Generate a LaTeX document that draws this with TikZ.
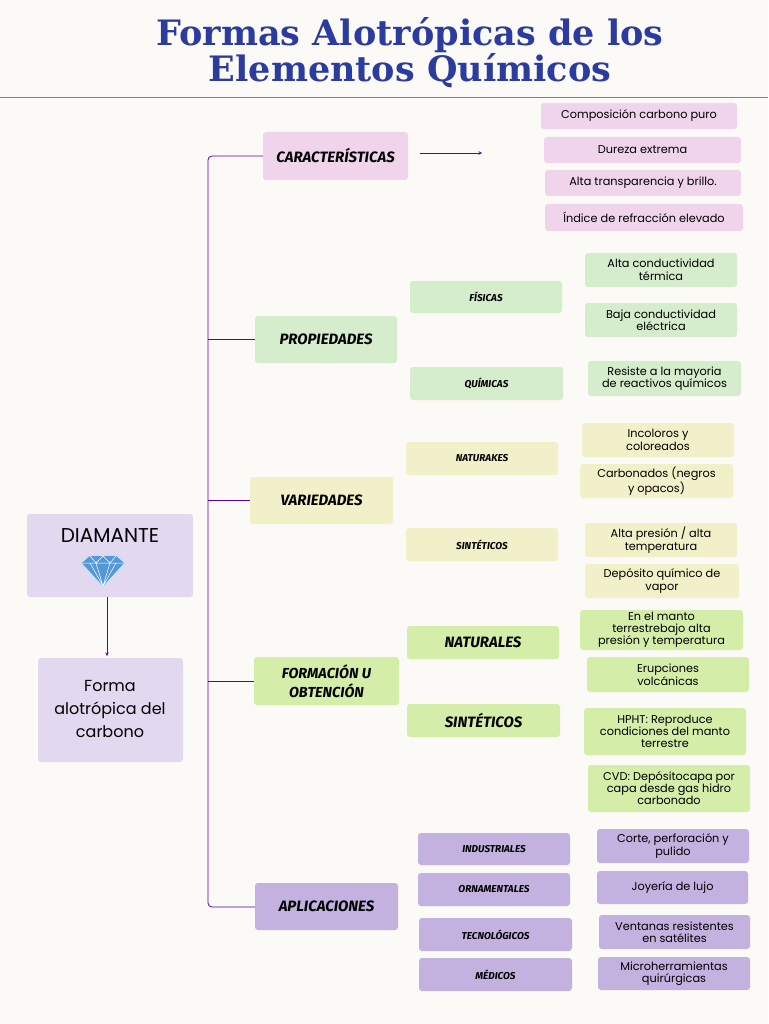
\documentclass[tikz,border=0pt]{standalone}
\usepackage{fontspec}
\setmainfont{Poppins}
\newfontfamily\titlef{DejaVu Serif}
\newfontfamily\labf{Fira Sans}
\begin{document}
\begin{tikzpicture}[x=1pt,y=-1pt,
  box/.style={rounded corners=3pt,inner sep=0pt},
  lab/.style={font=\labf\bfseries\itshape\fontsize{15}{16}\selectfont},
  sublab/.style={font=\labf\bfseries\itshape\fontsize{10}{11}\selectfont},
  leaf/.style={font=\fontsize{11.3}{12.5}\selectfont,align=center},
  line/.style={draw=violet!70!blue,line width=0.8pt}]
\definecolor{bg}{HTML}{FBFAF6}
\definecolor{pk}{HTML}{F0D4EC}
\definecolor{gr}{HTML}{D5EDCC}
\definecolor{yl}{HTML}{F2F0C8}
\definecolor{lm}{HTML}{D4EEAA}
\definecolor{pu}{HTML}{C3B1E0}
\definecolor{lv}{HTML}{E2D8F0}
\definecolor{tb}{HTML}{2B3C9E}
\definecolor{rl}{HTML}{8A70C0}
\fill[bg] (0,0) rectangle (768,1024);
\useasboundingbox (0,0) rectangle (768,1024);
\node[font=\titlef\bfseries\fontsize{35}{35}\selectfont,text=tb,align=center] (title) at (410,53) {Formas Alotrópicas de los\\Elementos Químicos};
\coordinate (r1) at (0,97);
\coordinate (r2) at (768,97);
\draw[rl,line width=0.6pt] (r1) -- (r2);
\newcommand\bx[6]{\fill[#2,box] (#3,#4) rectangle (#5,#6); \node[#1] at ({(#3+#5)/2},{(#4+#6)/2})}
% main
\bx{lab}{pk}{263}{132}{408}{180} (car) {CARACTERÍSTICAS};
\bx{lab}{gr}{255}{316}{397}{363} (pro) {PROPIEDADES};
\bx{lab}{yl}{250}{477}{393}{524} (var) {VARIEDADES};
\bx{lab,align=center,font=\labf\bfseries\itshape\fontsize{14.5}{19}\selectfont}{lm}{254}{657}{399}{705} (for) {FORMACIÓN U\\OBTENCIÓN};
\bx{lab}{pu}{255}{883}{398}{930} (apl) {APLICACIONES};
% pink leaves
\bx{leaf}{pk}{541}{103}{737}{129} (p1) {Composición carbono puro};
\bx{leaf}{pk}{544}{137}{741}{163} (p2) {Dureza extrema};
\bx{leaf}{pk}{545}{170}{741}{196} (p3) {Alta transparencia y brillo.};
\bx{leaf}{pk}{545}{204}{743}{231} (p4) {Índice de refracción elevado};
% propiedades
\bx{sublab}{gr}{410}{281}{562}{313} (fis) {FÍSICAS};
\bx{sublab}{gr}{410}{367}{563}{400} (qui) {QUÍMICAS};
\bx{leaf}{gr}{585}{253}{737}{287} (g1) {Alta conductividad\\térmica};
\bx{leaf}{gr}{585}{303}{737}{337} (g2) {Baja conductividad\\eléctrica};
\bx{leaf}{gr}{588}{361}{741}{396} (g3) {Resiste a la mayoria\\de reactivos químicos};
% variedades
\bx{sublab}{yl}{406}{442}{558}{475} (nat) {NATURAKES};
\bx{sublab}{yl}{406}{528}{558}{561} (sin) {SINTÉTICOS};
\bx{leaf}{yl}{582}{423}{734}{457} (y1) {Incoloros y\\coloreados};
\bx{leaf}{yl}{580}{464}{733}{498} (y2) {Carbonados (negros\\y opacos)};
\bx{leaf}{yl}{585}{523}{737}{557} (y3) {Alta presión / alta\\temperatura};
\bx{leaf}{yl}{585}{564}{739}{598} (y4) {Depósito químico de\\vapor};
% formacion
\bx{lab}{lm}{407}{626}{559}{659} (nat2) {NATURALES};
\bx{lab}{lm}{407}{704}{560}{737} (sin2) {SINTÉTICOS};
\bx{leaf,font=\fontsize{11.3}{11.5}\selectfont}{lm}{580}{610}{743}{650} (l1) {En el manto\\terrestrebajo alta\\presión y temperatura};
\bx{leaf}{lm}{587}{657}{749}{692} (l2) {Erupciones\\volcánicas};
\bx{leaf,font=\fontsize{11.3}{12}\selectfont}{lm}{584}{708}{746}{755} (l3) {HPHT: Reproduce\\condiciones del manto\\terrestre};
\bx{leaf,font=\fontsize{11.3}{12}\selectfont}{lm}{588}{765}{750}{812} (l4) {CVD: Depósitocapa por\\capa desde gas hidro\\carbonado};
% aplicaciones
\bx{sublab}{pu}{418}{833}{570}{865} (a1) {INDUSTRIALES};
\bx{sublab}{pu}{418}{873}{570}{906} (a2) {ORNAMENTALES};
\bx{sublab}{pu}{419}{918}{572}{951} (a3) {TECNOLÓGICOS};
\bx{sublab}{pu}{419}{958}{572}{991} (a4) {MÉDICOS};
\bx{leaf}{pu}{597}{829}{749}{863} (u1) {Corte, perforación y\\pulido};
\bx{leaf}{pu}{597}{871}{748}{904} (u2) {Joyería de lujo};
\bx{leaf}{pu}{599}{915}{750}{949} (u3) {Ventanas resistentes\\en satélites};
\bx{leaf}{pu}{598}{957}{750}{990} (u4) {Microherramientas\\quirúrgicas};
% diamante
\fill[lv,box] (27,514) rectangle (193,597);
\node[font=\fontsize{20}{22}\selectfont] (dia) at (110,536) {DIAMANTE};
\fill[lv,box] (38,658) rectangle (183,762);
\node[font=\fontsize{16}{23}\selectfont,align=center] (forma) at (110,709) {Forma\\alotrópica del\\carbono};
\begin{scope}[shift={(103,573)}]
\fill[cyan!50!blue!60,draw=cyan!30,line width=3pt,opacity=0.5] (-21,-10) -- (-13,-17) -- (13,-17) -- (21,-10) -- (0,13) -- cycle;
\fill[cyan!60!blue!70] (-21,-10) -- (-13,-17) -- (13,-17) -- (21,-10) -- (0,13) -- cycle;
\draw[white,line width=0.5pt] (-21,-10) -- (21,-10) (-13,-17) -- (-7,-10) -- (0,-17) -- (7,-10) -- (13,-17) (-7,-10) -- (0,13) -- (7,-10) (-13,-10)--(0,13)--(13,-10);
\end{scope}
\coordinate (dbot) at (107,597);
\coordinate (ftop) at (107,656);
\draw[line,line width=0.6pt,-stealth] (dbot) -- (ftop);
% tree
\coordinate (c1) at (263,156);
\coordinate (b2) at (255,339);
\coordinate (b3) at (250,500);
\coordinate (b4) at (254,681);
\coordinate (b5) at (255,907);
\draw[line] (c1) -- (212,156) to[out=180,in=90] (208,160) -- (208,903) to[out=-90,in=180] (212,907) -- (b5);
\draw[line] (208,339) -- (b2);
\draw[line] (208,500) -- (b3);
\draw[line] (208,681) -- (b4);
\coordinate (as) at (420,153);
\coordinate (ae) at (482,153);
\draw[line,line width=0.6pt,-stealth] (as) -- (ae);
\end{tikzpicture}
\end{document}
